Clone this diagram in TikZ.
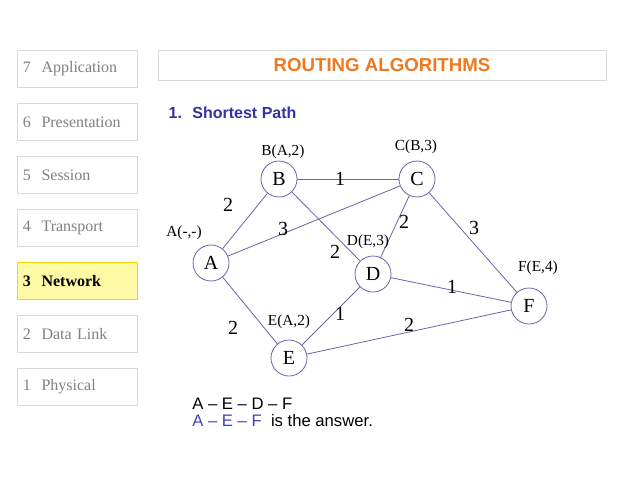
\documentclass[tikz,border=0pt]{standalone}
\usepackage{fontspec}
\setmainfont{Liberation Serif}
\newfontfamily\sans{Liberation Sans}
\begin{document}
\begin{tikzpicture}[x=0.75pt,y=-0.75pt,
  side/.style={draw=black!15,line width=0.8pt,minimum width=90pt,minimum height=27.5pt,inner sep=0,font=\fontsize{12}{14}\selectfont,text=black!50,anchor=north west,text width=82pt,align=left},
  vert/.style={circle,draw=blue!45!black!60,fill=white,line width=0.6pt,minimum size=27pt,inner sep=0,font=\fontsize{15}{17}\selectfont},
  edge/.style={draw=blue!45!black!60,line width=0.6pt},
  wt/.style={font=\fontsize{15}{17}\selectfont,inner sep=0},
  lab/.style={font=\fontsize{11.5}{13}\selectfont,inner sep=0}]
\useasboundingbox (0,0) rectangle (638,478);
\node[side] (s7) at (17,50) {7~ Application};
\node[side] (s6) at (17,103) {6~ Presentation};
\node[side] (s5) at (17,156) {5~ Session};
\node[side] (s4) at (17,209) {4~ Transport};
\node[side,fill=yellow!35,draw=yellow!70!orange,text=black,font=\fontsize{12}{14}\selectfont\bfseries] (s3) at (17,262) {3~ Network};
\node[side] (s2) at (17,315) {2~ Data Link};
\node[side] (s1) at (17,368) {1~ Physical};
\node[draw=black!15,line width=0.8pt,minimum width=336pt,minimum height=22.5pt,anchor=north west,inner sep=0] (tb) at (158,50) {};
\node[font=\sans\bfseries\fontsize{14}{16}\selectfont,text={rgb,255:red,240;green,120;blue,30}] (title) at (382,65) {ROUTING ALGORITHMS};
\node[font=\sans\bfseries\fontsize{12}{14}\selectfont,text={rgb,255:red,50;green,50;blue,160},anchor=west] (sp) at (164,113) {1.~ Shortest Path};
\node[vert] (B) at (279,179) {B};
\node[vert] (C) at (417,179) {C};
\node[vert] (A) at (211,263) {A};
\node[vert] (D) at (373,274) {D};
\node[vert] (F) at (529,306) {F};
\node[vert] (E) at (289,358) {E};
\draw[edge] (A)--(B); \draw[edge] (A)--(C); \draw[edge] (A)--(E);
\draw[edge] (B)--(C); \draw[edge] (B)--(D); \draw[edge] (C)--(D);
\draw[edge] (C)--(F); \draw[edge] (D)--(F); \draw[edge] (E)--(D); \draw[edge] (E)--(F);
\node[wt] (w1) at (228,205) {2};
\node[wt] (w2) at (283,229) {3};
\node[wt] (w3) at (335,252) {2};
\node[wt] (w4) at (404,222) {2};
\node[wt] (w5) at (340,179) {1};
\node[wt] (w6) at (474,228) {3};
\node[wt] (w7) at (452,287) {1};
\node[wt] (w8) at (340,314) {1};
\node[wt] (w9) at (409,325) {2};
\node[wt] (w10) at (233,328) {2};
\node[lab] (lB) at (283,152) {B(A,2)};
\node[lab] (lC) at (416,147) {C(B,3)};
\node[lab] (lA) at (184,233) {A(-,-)};
\node[lab] (lD) at (368,242) {D(E,3)};
\node[lab] (lF) at (538,268) {F(E,4)};
\node[lab] (lE) at (289,322) {E(A,2)};
\node[font=\sans\fontsize{12.5}{14}\selectfont,anchor=west,inner sep=0] (r1) at (192,404) {A – E – D – F};
\node[font=\sans\fontsize{12.5}{14}\selectfont,anchor=west,inner sep=0] (r2) at (192,421) {\textcolor[rgb]{0.25,0.25,0.75}{A – E – F}~ is the answer.};
\end{tikzpicture}
\end{document}
